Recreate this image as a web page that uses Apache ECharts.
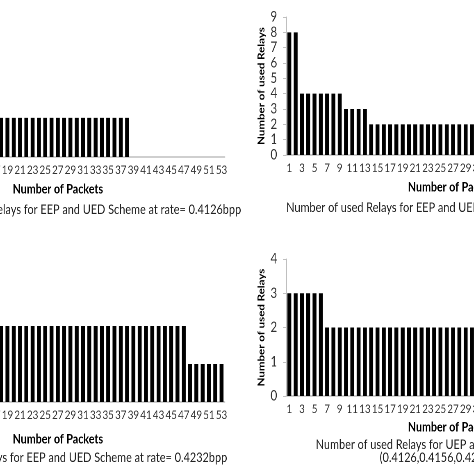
<!DOCTYPE html>
<html>
<head>
<meta charset="utf-8">
<script src="https://cdn.jsdelivr.net/npm/echarts@6/dist/echarts.min.js"></script>
<style>
html,body{margin:0;padding:0;background:#fff;overflow:hidden;}
/* the source figure is squeezed sideways, so draw wider and squeeze the same way */
#wrap{width:474px;height:474px;overflow:hidden;}
#main{width:578px;height:474px;transform:scaleX(0.82);transform-origin:0 0;}
</style>
</head>
<body>
<div id="wrap"><div id="main"></div></div>
<script>
// packet numbers (x categories)
var packets = ['1','2','3','4','5','6','7','8','9','10','11','12','13','14','15','16','17','18','19','20',
	'21','22','23','24','25','26','27','28','29','30','31','32','33','34','35','36','37','38','39','40',
	'41','42','43','44','45','46','47','48','49','50','51','52','53'];

// top left : EEP/UED at 0.4126bpp (bars stop at packet 38)
var relaysTL = [2,2,2,2,2,2,2,2,2,2,2,2,2,2,2,2,2,2,2,2,2,2,2,2,2,2,2,2,2,2,2,2,2,2,2,2,2,2,
	'-','-','-','-','-','-','-','-','-','-','-','-','-','-','-'];
// top right
var relaysTR = [8,8,4,4,4,4,4,4,4,3,3,3,3,2,2,2,2,2,2,2,2,2,2,2,2,2,2,2,2,2,2,2,2,2,2,2,2,2,
	2,2,2,2,2,2,2,2,2,2,2,2,2,2,2];
// bottom left : EEP/UED at 0.4232bpp
var relaysBL = [4,4,4,4,4,4,4,4,4,4,4,4,4,4,4,4,4,4,4,4,4,4,4,4,4,4,4,4,4,4,4,4,4,4,4,4,4,4,
	4,4,4,4,4,4,4,4,4,2,2,2,2,2,2];
// bottom right : UEP
var relaysBR = [3,3,3,3,3,3,2,2,2,2,2,2,2,2,2,2,2,2,2,2,2,2,2,2,2,2,2,2,2,2,2,2,2,2,2,2,2,2,
	2,2,2,2,2,2,2,2,2,2,2,2,2,2,2];

var yMaxs = [7, 9, 7, 4];

var captions = [
	'Number of used Relays for EEP and UED Scheme at rate= 0.4126bpp',
	'Number of used Relays for EEP and UED Scheme at rate= 0.4156bpp',
	'Number of used Relays for EEP and UED Scheme at rate= 0.4232bpp',
	'Number of used Relays for UEP and UED Scheme at rates=',
	'(0.4126,0.4156,0.4232)bpp'
];

var FONT = 'Lato, "Open Sans", sans-serif';
var grey = '#bfbfbf';

// positions are in the unsqueezed (578 wide) space
var grids = [
	{left: -133, width: 407, top: 20, height: 137},
	{left: 349, width: 407, top: 17, height: 138},
	{left: -133, width: 407, top: 269, height: 133},
	{left: 349, width: 407, top: 259, height: 137}
];

var xAxes = [], yAxes = [], series = [];
var allData = [relaysTL, relaysTR, relaysBL, relaysBR];
for (var i = 0; i < 4; i++) {
	grids[i].outerBoundsMode = 'none';
	xAxes.push({
		type: 'category',
		gridIndex: i,
		data: packets,
		name: 'Number of Packets',
		nameLocation: 'middle',
		nameGap: [26, 26, 31, 25][i],
		nameMoveOverlap: false,
		nameTextStyle: {fontFamily: FONT, fontWeight: 'bold', fontSize: 13, color: '#000'},
		axisLine: {lineStyle: {color: grey, width: 1.5}},
		axisTick: {show: false},
		axisLabel: {interval: 1, margin: 7, fontFamily: FONT, fontSize: 12, color: '#333'}
	});
	yAxes.push({
		type: 'value',
		gridIndex: i,
		min: 0,
		max: yMaxs[i],
		interval: 1,
		name: 'Number of used Relays',
		nameLocation: 'middle',
		nameGap: 24,
		nameMoveOverlap: false,
		nameTextStyle: {fontFamily: FONT, fontWeight: 'bold', fontSize: 11.5, color: '#000'},
		axisLine: {show: true, lineStyle: {color: grey}},
		axisTick: {show: true, length: 4, lineStyle: {color: grey}},
		splitLine: {show: false},
		axisLabel: {margin: 11, fontFamily: FONT, fontSize: 14, color: '#333'}
	});
	series.push({
		type: 'bar',
		xAxisIndex: i,
		yAxisIndex: i,
		data: allData[i],
		barWidth: '62%',
		itemStyle: {color: '#000'},
		animation: false
	});
}

var capStyle = {fontFamily: FONT, fontSize: 13.3, fill: '#222'};
var graphic = [
	{type: 'text', left: -109, top: 203, style: Object.assign({text: captions[0]}, capStyle)},
	{type: 'text', left: 349, top: 201, style: Object.assign({text: captions[1]}, capStyle)},
	{type: 'text', left: -126, top: 451, style: Object.assign({text: captions[2]}, capStyle)},
	{type: 'text', left: 385, top: 438, style: Object.assign({text: captions[3]}, capStyle)},
	{type: 'text', left: 463, top: 451, style: Object.assign({text: captions[4]}, capStyle)}
];

var myChart = echarts.init(document.getElementById('main'), null, {devicePixelRatio: 2});
myChart.setOption({
	animation: false,
	grid: grids,
	xAxis: xAxes,
	yAxis: yAxes,
	series: series,
	graphic: graphic
});
</script>
</body>
</html>
